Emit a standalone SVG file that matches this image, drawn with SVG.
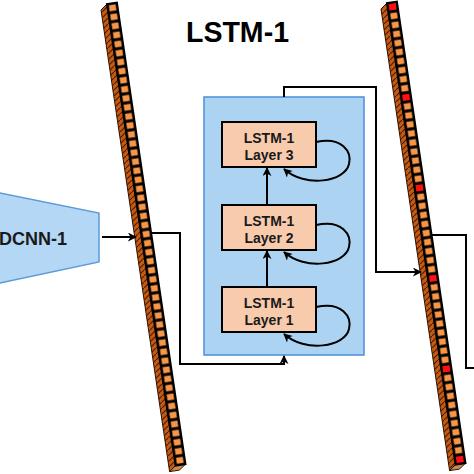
<svg xmlns="http://www.w3.org/2000/svg" width="474" height="474" viewBox="0 0 474 474">
  <defs>
    <pattern id="cells" patternUnits="userSpaceOnUse" width="10" height="9.15">
      <rect x="0" y="0" width="10" height="9.15" fill="#f79646" stroke="#000" stroke-width="3"/>
    </pattern>
    <pattern id="hatch" patternUnits="userSpaceOnUse" width="6" height="6">
      <rect width="6" height="6" fill="#c55a11"/>
      <path d="M-1,7 L7,-1" stroke="#4a1c04" stroke-width="1.2"/>
    </pattern>
    <marker id="arr" viewBox="0 0 10 10" refX="9" refY="5" markerWidth="9" markerHeight="9" markerUnits="userSpaceOnUse" orient="auto">
      <path d="M0,0 L10,5 L0,10 L3,5 z" fill="#000"/>
    </marker>
  </defs>
  <style>
    .line{fill:none;stroke:#000;stroke-width:2}
    .side{fill:url(#hatch);stroke:#2a1203;stroke-width:1}
    .bottom{fill:#d08a4a;stroke:#2a1203;stroke-width:1}
    .front{fill:url(#cells);stroke:#000;stroke-width:2}
    .red{fill:#ff1010;stroke:#000;stroke-width:1.2}
    .node rect{fill:#f8cbad;stroke:#000;stroke-width:2}
    .node text{font-family:"Liberation Sans",Arial,sans-serif;font-weight:bold;font-size:14px;fill:#1a1a1a;text-anchor:middle}
    .title{font-family:"Liberation Sans",Arial,sans-serif;font-weight:bold;font-size:30px;fill:#000;text-anchor:middle}
  </style>
  <rect width="474" height="474" fill="#fff"/>

  <text class="title" x="237.5" y="42" textLength="103" lengthAdjust="spacingAndGlyphs">LSTM-1</text>

  <g id="dcnn">
    <polygon points="-5,192 99,213 99,262 -5,284" fill="#b4d7f5" stroke="#5b9bd5" stroke-width="1.5"/>
    <text x="67" y="245" font-family="'Liberation Sans',Arial,sans-serif" font-weight="bold" font-size="18" fill="#1a1a1a" text-anchor="end">DCNN-1</text>
  </g>

  <g id="bar-left">
    <polygon class="side" points="107,4 175.6,465.6 169.6,471.6 101,10"/>
    <polygon class="bottom" points="175.6,465.6 185.5,464.1 179.5,470.1 169.6,471.6"/>
    <g transform="translate(107,4) rotate(-8.45)">
      <rect class="front" x="0" y="0" width="10" height="466.7"/>
    </g>
  </g>

  <g id="bar-right">
    <polygon class="side" points="387,3 455.6,464.6 449.6,470.6 381,9"/>
    <polygon class="bottom" points="455.6,464.6 465.5,463.1 459.5,469.1 449.6,470.6"/>
    <g transform="translate(387,3) rotate(-8.45)">
      <rect class="front" x="0" y="0" width="10" height="466.7"/>
      <rect class="red" x="0.8" y="0.8" width="8.4" height="7.55"/>
      <rect class="red" x="0.8" y="92.3" width="8.4" height="7.55"/>
      <rect class="red" x="0.8" y="183.8" width="8.4" height="7.55"/>
      <rect class="red" x="0.8" y="275.3" width="8.4" height="7.55"/>
      <rect class="red" x="0.8" y="366.8" width="8.4" height="7.55"/>
      <rect class="red" x="0.8" y="458.3" width="8.4" height="7.55"/>
    </g>
  </g>

  <g id="lstm-block">
    <rect x="204" y="97" width="160" height="258" fill="#acd4f2" stroke="#4a8ed8" stroke-width="1.5"/>
  </g>

  <g id="layer3" class="node">
    <rect x="222" y="122" width="94" height="45"/>
    <text x="269" y="143">LSTM-1</text>
    <text x="269" y="160">Layer 3</text>
  </g>
  <g id="layer2" class="node">
    <rect x="222" y="205" width="94" height="45"/>
    <text x="269" y="226">LSTM-1</text>
    <text x="269" y="243">Layer 2</text>
  </g>
  <g id="layer1" class="node">
    <rect x="222" y="287" width="94" height="45"/>
    <text x="269" y="308">LSTM-1</text>
    <text x="269" y="325">Layer 1</text>
  </g>

  <g id="connectors">
    <path class="line" d="M102,237 H136" marker-end="url(#arr)"/>
    <path class="line" d="M150,233 H180 V364 H284 V356" marker-end="url(#arr)"/>
    <path class="line" d="M267,287 V251" marker-end="url(#arr)"/>
    <path class="line" d="M267,205 V168" marker-end="url(#arr)"/>
    <path class="line" d="M284,97 V87 H376 V272 H421" marker-end="url(#arr)"/>
    <path class="line" d="M431,235 H466 V368 H476"/>
    <path class="line" d="M316,142 C342,136 352,152 349,164 C345,182 305,188 284,169" marker-end="url(#arr)"/>
    <path class="line" d="M316,225 C342,219 352,235 349,247 C345,265 305,271 284,252" marker-end="url(#arr)"/>
    <path class="line" d="M316,307 C342,301 352,317 349,329 C345,347 305,353 284,334" marker-end="url(#arr)"/>
  </g>
</svg>
